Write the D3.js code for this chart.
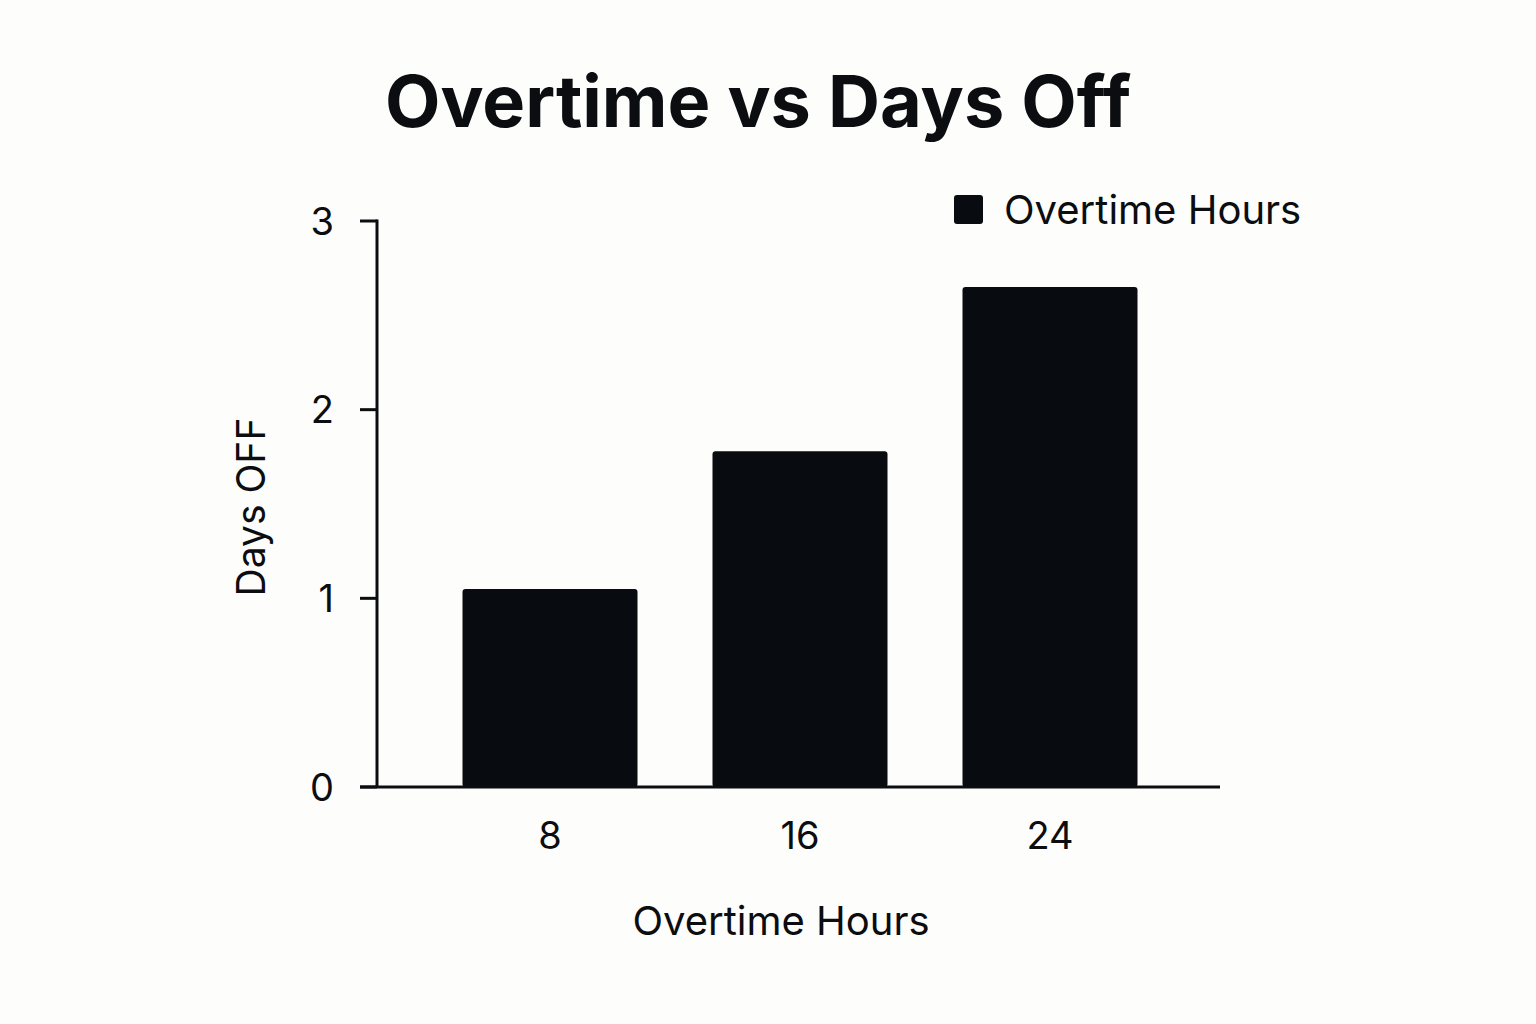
<!DOCTYPE html>
<html>
<head>
<meta charset="utf-8">
<script src="https://cdn.jsdelivr.net/npm/d3@7"></script>
<style>
    body { margin: 0; background: #fdfdfb; }
    svg { display: block; font-family: Inter, "Noto Sans", sans-serif; }
    .axis-line { stroke: #0b0d10; stroke-width: 3; }
</style>
</head>
<body>
<div id="bar-chart"></div>
<script>
// data
const categories = ["8", "16", "24"];
const daysOff = [1.05, 1.78, 2.65];
const yTicks = [0, 1, 2, 3];
const seriesName = "Overtime Hours";

function BarChart(categories, values){
    let self = this;
    self.categories = categories;
    self.values = values;
    self.init();
};

BarChart.prototype.init = function(){
    let self = this;
    self.svgWidth = 1536;
    self.svgHeight = 1024;

    let div = d3.select("#bar-chart").html("");
    self.svg = div.append("svg")
        .attr("width", self.svgWidth)
        .attr("height", self.svgHeight);

    self.svg.append("rect")
        .attr("width", self.svgWidth)
        .attr("height", self.svgHeight)
        .attr("fill", "#fdfdfb");

    self.svg.append("text")
        .attr("x", 758)
        .attr("y", 127)
        .attr("text-anchor", "middle")
        .style("font-size", "72px")
        .style("font-weight", 700)
        .attr("fill", "#0b0d10")
        .text("Overtime vs Days Off");

    self.draw();
};

BarChart.prototype.draw = function(){
    let self = this;

    let x = d3.scaleBand()
        .domain(self.categories)
        .range([425, 1175])
        .paddingInner(0.3)
        .paddingOuter(0.15);

    let y = d3.scaleLinear()
        .domain([0, 3])
        .range([787, 221]);

    let data = self.categories.map((c, i) => ({cat: c, value: self.values[i]}));

    // bars
    self.svg.append("g")
        .selectAll("rect")
        .data(data)
        .enter()
        .append("rect")
        .attr("x", d => x(d.cat))
        .attr("width", x.bandwidth())
        .attr("y", d => y(d.value))
        .attr("height", d => y(0) - y(d.value))
        .attr("rx", 3)
        .attr("fill", "#080b10");

    // y axis
    let yAxis = self.svg.append("g");
    yAxis.append("line")
        .attr("class", "axis-line")
        .attr("x1", 377).attr("x2", 377)
        .attr("y1", y(3) - 1.5).attr("y2", y(0));
    let yt = yAxis.selectAll("g")
        .data(yTicks)
        .enter()
        .append("g")
        .attr("transform", d => "translate(0," + y(d) + ")");
    yt.append("line")
        .attr("class", "axis-line")
        .attr("x1", 360).attr("x2", 377);
    yt.append("text")
        .attr("x", 334)
        .attr("dy", "0.36em")
        .attr("text-anchor", "end")
        .style("font-size", "38px")
        .attr("fill", "#0b0d10")
        .text(d => d);

    // x axis
    self.svg.append("line")
        .attr("class", "axis-line")
        .attr("x1", 360).attr("x2", 1220)
        .attr("y1", y(0)).attr("y2", y(0));
    self.svg.append("g")
        .selectAll("text")
        .data(self.categories)
        .enter()
        .append("text")
        .attr("x", d => x(d) + x.bandwidth() / 2)
        .attr("y", 849)
        .attr("text-anchor", "middle")
        .style("font-size", "38px")
        .attr("fill", "#0b0d10")
        .text(d => d);

    // axis titles
    self.svg.append("text")
        .attr("x", 781)
        .attr("y", 935)
        .attr("text-anchor", "middle")
        .style("font-size", "40px")
        .attr("fill", "#0b0d10")
        .text("Overtime Hours");

    self.svg.append("text")
        .attr("transform", "translate(265,507) rotate(-90)")
        .attr("text-anchor", "middle")
        .style("font-size", "39px")
        .attr("fill", "#0b0d10")
        .text("Days OFF");

    // legend
    let legend = self.svg.append("g").attr("transform", "translate(954,195)");
    legend.append("rect")
        .attr("width", 29)
        .attr("height", 29)
        .attr("rx", 3)
        .attr("fill", "#080b10");
    legend.append("text")
        .attr("x", 50)
        .attr("y", 29)
        .style("font-size", "40px")
        .attr("fill", "#0b0d10")
        .text(seriesName);
};

new BarChart(categories, daysOff);
</script>
</body>
</html>
